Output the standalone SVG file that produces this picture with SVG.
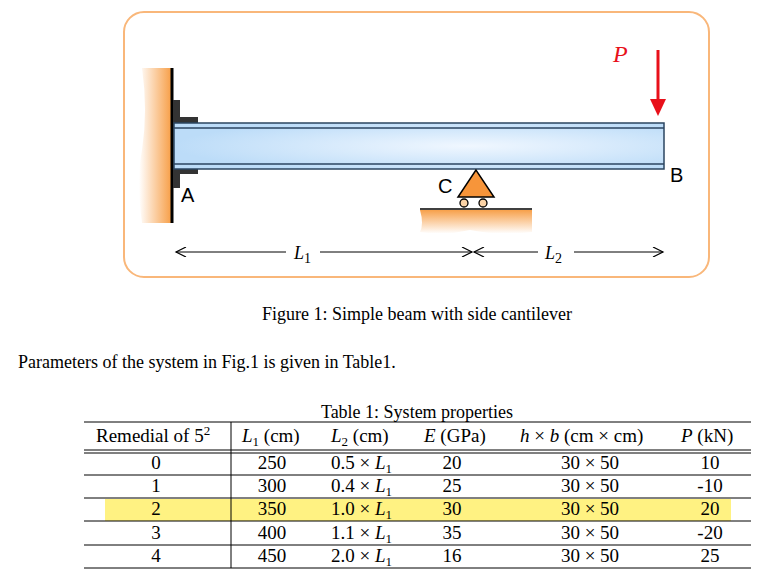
<svg xmlns="http://www.w3.org/2000/svg" width="771" height="581" viewBox="0 0 771 581">
<style>
.s{font-family:"Liberation Serif",serif;font-size:18px;fill:#000}
.c{text-anchor:middle}
.lab{font-family:"Liberation Sans",sans-serif;font-size:20px;fill:#000}
.ln{stroke:#000;stroke-width:1}
</style>
<defs>
<linearGradient id="wall" x1="0" x2="1"><stop offset="0" stop-color="#fff"/><stop offset="1" stop-color="#f7a04a"/></linearGradient>
<linearGradient id="gnd" x1="0" y1="0" x2="0" y2="1"><stop offset="0" stop-color="#f7a04a"/><stop offset="1" stop-color="#fff"/></linearGradient>
<radialGradient id="beam" cx="0.6" cy="0.5" r="0.6"><stop offset="0" stop-color="#f0f7ff"/><stop offset="1" stop-color="#bcdcf8"/></radialGradient>
<marker id="ah" viewBox="0 0 10 10" refX="10" refY="5" markerWidth="14" markerHeight="10" markerUnits="userSpaceOnUse" orient="auto-start-reverse"><path d="M0,0 L10,5 L0,10" fill="none" stroke="#000" stroke-width="1.2"/></marker>
</defs>
<rect x="124" y="12" width="585" height="265" rx="20" fill="none" stroke="#f9b77a" stroke-width="2"/>
<g id="wall"><path d="M142,68 H171 V223 H142 Q136,180 142,150 Q148,110 142,68Z" fill="url(#wall)"/><line x1="172" y1="68" x2="172" y2="223" stroke="#000" stroke-width="3"/>
<rect x="173" y="100" width="7" height="88" fill="#333"/><rect x="173" y="117" width="25" height="6" fill="#333"/><rect x="173" y="169" width="25" height="5" fill="#333"/></g>
<g id="beam"><rect x="174" y="123" width="490" height="46" fill="url(#beam)" stroke="#2b4560" stroke-width="1.5"/><line x1="174" y1="128" x2="664" y2="128" stroke="#2b4560" stroke-width="1.5"/><line x1="174" y1="164" x2="664" y2="164" stroke="#2b4560" stroke-width="1.5"/></g>
<g id="support"><path d="M420,232 Q424,224 420,210 H532 V232 Q500,236 470,230 Q445,236 420,232Z" fill="url(#gnd)"/><line x1="420" y1="209" x2="532" y2="209" stroke="#000" stroke-width="1.5"/>
<polygon points="476,170 458,197 494,197" fill="#f7953a" stroke="#000" stroke-width="1.5"/><circle cx="464" cy="203" r="4" fill="#fbd3a6" stroke="#000" stroke-width="1.3"/><circle cx="483" cy="203" r="4" fill="#fbd3a6" stroke="#000" stroke-width="1.3"/></g>
<g id="load"><line x1="658" y1="50" x2="658" y2="102" stroke="#e8101a" stroke-width="3"/><polygon points="650,99 666,99 658,116" fill="#e8101a"/><text x="613" y="62" font-family="Liberation Serif,serif" font-style="italic" font-size="24" fill="#e8101a">P</text></g>
<text class="lab" x="181" y="202">A</text><text class="lab" x="438" y="193">C</text><text class="lab" x="670" y="182">B</text>
<g id="connectors">
<line x1="176" y1="252" x2="286" y2="252" class="ln" marker-start="url(#ah)"/><line x1="320" y1="252" x2="472" y2="252" class="ln" marker-end="url(#ah)"/>
<line x1="474" y1="252" x2="538" y2="252" class="ln" marker-start="url(#ah)"/><line x1="574" y1="252" x2="663" y2="252" class="ln" marker-end="url(#ah)"/>
</g>
<text class="s" x="294" y="259" font-style="italic" font-size="21">L<tspan font-size="14" dy="4" font-style="normal">1</tspan></text>
<text class="s" x="545" y="259" font-style="italic" font-size="21">L<tspan font-size="14" dy="4" font-style="normal">2</tspan></text>
<text class="s c" x="417" y="320">Figure 1: Simple beam with side cantilever</text>
<text class="s" x="18" y="368">Parameters of the system in Fig.1 is given in Table1.</text>
<g id="table">
<text class="s c" x="417" y="418">Table 1: System properties</text>
<rect x="105" y="499" width="626" height="22" fill="#fff282"/>
<line x1="84" y1="422" x2="751" y2="422" class="ln"/>
<line x1="84" y1="450" x2="751" y2="450" class="ln"/><line x1="84" y1="453" x2="751" y2="453" class="ln"/>
<line x1="84" y1="475" x2="751" y2="475" class="ln"/><line x1="84" y1="498" x2="751" y2="498" class="ln" stroke="#666"/>
<line x1="84" y1="521" x2="751" y2="521" class="ln" stroke="#666"/><line x1="84" y1="545" x2="751" y2="545" class="ln"/>
<line x1="84" y1="568" x2="751" y2="568" class="ln"/>
<line x1="231" y1="422" x2="231" y2="568" class="ln"/>
<g font-family="Liberation Serif,serif" font-size="19">
<text x="96" y="442">Remedial of 5<tspan font-size="13" dy="-7">2</tspan></text>
<text x="242" y="442"><tspan font-style="italic">L</tspan><tspan font-size="13" dy="4">1</tspan><tspan dy="-4"> (cm)</tspan></text>
<text x="331" y="442"><tspan font-style="italic">L</tspan><tspan font-size="13" dy="4">2</tspan><tspan dy="-4"> (cm)</tspan></text>
<text x="424" y="442"><tspan font-style="italic">E</tspan> (GPa)</text>
<text x="520" y="442"><tspan font-style="italic">h</tspan> × <tspan font-style="italic">b</tspan> (cm × cm)</text>
<text x="681" y="442"><tspan font-style="italic">P</tspan> (kN)</text>
</g>
<g font-family="Liberation Serif,serif" font-size="19" text-anchor="middle">
<text y="469"><tspan x="156">0</tspan><tspan x="272">250</tspan><tspan x="452">20</tspan><tspan x="590">30 × 50</tspan><tspan x="710">10</tspan></text>
<text y="492"><tspan x="156">1</tspan><tspan x="272">300</tspan><tspan x="452">25</tspan><tspan x="590">30 × 50</tspan><tspan x="710">-10</tspan></text>
<text y="515"><tspan x="156">2</tspan><tspan x="272">350</tspan><tspan x="452">30</tspan><tspan x="590">30 × 50</tspan><tspan x="710">20</tspan></text>
<text y="539"><tspan x="156">3</tspan><tspan x="272">400</tspan><tspan x="452">35</tspan><tspan x="590">30 × 50</tspan><tspan x="710">-20</tspan></text>
<text y="562"><tspan x="156">4</tspan><tspan x="272">450</tspan><tspan x="452">16</tspan><tspan x="590">30 × 50</tspan><tspan x="710">25</tspan></text>
</g>
<g font-family="Liberation Serif,serif" font-size="19">
<text x="331" y="469">0.5 × <tspan font-style="italic">L</tspan><tspan font-size="13" dy="4">1</tspan></text>
<text x="331" y="492">0.4 × <tspan font-style="italic">L</tspan><tspan font-size="13" dy="4">1</tspan></text>
<text x="331" y="515">1.0 × <tspan font-style="italic">L</tspan><tspan font-size="13" dy="4">1</tspan></text>
<text x="331" y="539">1.1 × <tspan font-style="italic">L</tspan><tspan font-size="13" dy="4">1</tspan></text>
<text x="331" y="562">2.0 × <tspan font-style="italic">L</tspan><tspan font-size="13" dy="4">1</tspan></text>
</g>
</g>
</svg>
